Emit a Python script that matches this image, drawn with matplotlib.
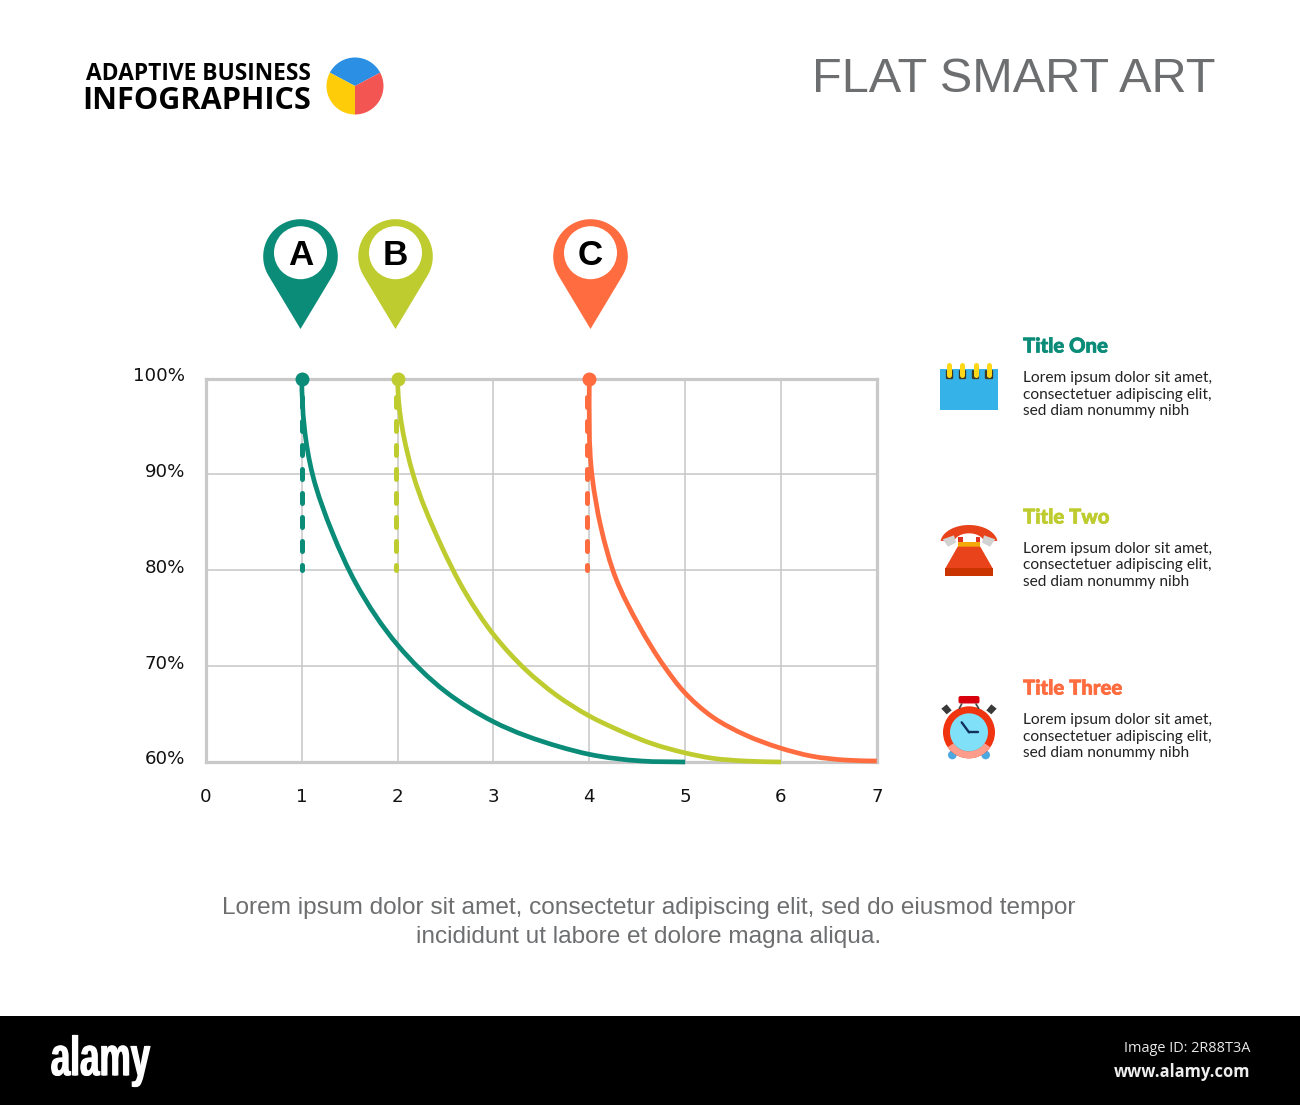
import numpy as np
import matplotlib
matplotlib.use("Agg")
import matplotlib.pyplot as plt
from matplotlib.patches import Rectangle, Circle, Wedge, Polygon, FancyBboxPatch, PathPatch
from matplotlib.path import Path
from matplotlib.patheffects import AbstractPathEffect, withStroke
from matplotlib.transforms import ScaledTranslation, Affine2D

W, H = 1300, 1105
GREEN, LIME, ORANGE = "#0a8c78", "#bfcc30", "#ff6c3f"
GRID = "#c9c9c9"
GREY = "#6d6e70"

# ---------- data ----------
x_ticks = [0, 1, 2, 3, 4, 5, 6, 7]
y_ticks = [60, 70, 80, 90, 100]
y_labels = ["60%", "70%", "80%", "90%", "100%"]

a_x = [1.0, 1.114, 1.322, 1.566, 2.0, 2.505, 3.0, 3.686, 4.0, 4.552, 5.0]
a_y = [100, 89.9, 83.85, 78.6, 72.2, 67.3, 64.2, 61.6, 60.8, 60.1, 60]
b_x = [2.0, 2.164, 2.435, 2.71, 3.0, 3.339, 3.652, 4.0, 4.312, 4.659, 5.0, 5.28, 5.63, 6.0]
b_y = [100, 89.9, 83.0, 77.6, 73.3, 69.6, 67.0, 64.8, 63.3, 61.9, 60.95, 60.4, 60.1, 60]
c_x = [4.0, 4.03, 4.121, 4.277, 4.52, 4.78, 4.99, 5.285, 5.633, 5.98, 6.327, 6.676, 7.0]
c_y = [100, 89.75, 84.5, 79.15, 74.2, 70.0, 67.3, 64.7, 62.8, 61.5, 60.6, 60.2, 60.1]
dash_x = [1.0, 1.98, 3.98]
dash_bottom = [80, 80, 80]
dash_top = [98.1, 98.1, 98.1]
series_colors = [GREEN, LIME, ORANGE]
pin_letters = ["A", "B", "C"]
titles = ["Title One", "Title Two", "Title Three"]
body = "Lorem ipsum dolor sit amet,\nconsectetuer adipiscing elit,\nsed diam nonummy nibh"
footer = "Lorem ipsum dolor sit amet, consectetur adipiscing elit, sed do eiusmod tempor\nincididunt ut labore et dolore magna aliqua."

px = 0.72  # points per pixel at dpi 100
fig = plt.figure(figsize=(W / 100, H / 100), dpi=100, facecolor="white")


class SqueezeX(AbstractPathEffect):
    """Narrow real text horizontally about a display x position, slightly emboldened."""
    def __init__(self, x0, sx, bold=1.5):
        super().__init__()
        self.x0, self.sx, self.bold = x0, sx, bold

    def draw_path(self, renderer, gc, tpath, affine, rgbFace=None):
        t = affine + Affine2D().translate(-self.x0, 0).scale(self.sx, 1).translate(self.x0, 0)
        renderer.draw_path(gc, tpath, t, rgbFace)
        renderer.draw_path(gc, tpath, t + Affine2D().translate(self.bold, 0), rgbFace)


# ---------- overlay in pixel coordinates ----------
bg = fig.add_axes([0, 0, 1, 1], zorder=0)
bg.set_xlim(0, W); bg.set_ylim(H, 0); bg.axis("off")

bg.add_patch(Rectangle((0, 1016), W, 89, fc="black", ec="none"))
bg.text(50, 1075.5, "alamy", color="white", fontsize=56 * px, fontweight="bold",
        family="Liberation Sans", va="baseline", ha="left",
        path_effects=[SqueezeX(50, 0.626)])
bg.text(1250, 1048.5, "Image ID: 2R88T3A", color="#e8e8e8", fontsize=14.5 * px, family="Open Sans", ha="right", va="center")
bg.text(1250, 1072, "www.alamy.com", color="#eeeeee", fontsize=16.5 * px, family="Open Sans", fontweight="bold", ha="right", va="center")

# logo
bg.text(311, 74, "ADAPTIVE BUSINESS", fontsize=22.8 * px, family="Open Sans", fontweight="bold", color="black", ha="right", va="center")
bg.text(311, 101, "INFOGRAPHICS", fontsize=30.7 * px, family="Open Sans", fontweight="bold", color="black", ha="right", va="center")
def wedge(cx, cy, r, a1, a2, c):
    bg.add_patch(Wedge((cx, cy), r, -a2, -a1, fc=c, ec="none"))
wedge(355, 86, 28.5, 28, 152, "#2b8fe3")
wedge(355, 86, 28.5, -90, 28, "#f25552")
wedge(355, 86, 28.5, 152, 270, "#ffcc0a")

bg.text(1215, 79, "FLAT SMART ART", fontsize=48.6 * px, family="Liberation Sans", color=GREY, ha="right", va="center")
bg.text(649, 922.5, footer, fontsize=24.45 * px, family="Liberation Sans", color=GREY, ha="center", va="center", linespacing=1.38)

# pins
def pin(cx, color, letter):
    cy, r, tip = 256.5, 37.3, 329
    d = tip - cy
    th = np.arcsin(r / d)
    t = np.linspace(-th, np.pi + th, 80)
    pts = np.c_[cx + r * np.cos(t), cy - r * np.sin(t)]
    pts = np.vstack([pts, [cx, tip]])
    bg.add_patch(Polygon(pts, closed=True, fc=color, ec="none"))
    bg.add_patch(Circle((cx, 252.7), 26.5, fc="white", ec="none"))
    bg.text(cx, 255.5, letter, fontsize=35 * px, fontweight="bold", family="Liberation Sans", color="black", ha="center", va="center")
for cx, col, l in zip([300.5, 395.5, 590.5], series_colors, pin_letters):
    pin(cx, col, l)

# legend text
for ty, col, t in zip([346, 517, 688], series_colors, titles):
    bg.text(1023, ty, t, fontsize=20.3 * px, family="Lato", fontweight="black", color=col, ha="left", va="center",
            path_effects=[withStroke(linewidth=0.5, foreground=col)])
    bg.text(1023, ty + 48.5, body, fontsize=15.5 * px, family="Lato", color="#222222", ha="left", va="center", linespacing=1.22)

# icons
def zp(zx, zy):
    return 920 + zx / 3, 330 + zy / 3
def poly(pts, c, **kw):
    bg.add_patch(Polygon([zp(*p) for p in pts], closed=True, fc=c, ec="none", **kw))
def zrect(x0, y0, x1, y1, c):
    (a, b), (e, f) = zp(x0, y0), zp(x1, y1)
    bg.add_patch(Rectangle((a, b), e - a, f - b, fc=c, ec="none"))
def zcirc(x, y, r, c):
    bg.add_patch(Circle(zp(x, y), r / 3, fc=c, ec="none"))
def zline(xs, ys, c, w, cap="round"):
    p = [zp(a, b) for a, b in zip(xs, ys)]
    bg.plot([q[0] for q in p], [q[1] for q in p], color=c, lw=w / 3 * px, solid_capstyle=cap)

# calendar
zrect(60, 118, 235, 240, "#35b2e8")
for zx in [88, 127, 167, 207]:
    zline([zx - 8, zx - 8, zx + 8, zx + 8], [122, 143, 143, 122], "#3a3a2a", 7)
    zline([zx, zx], [106, 134], "#ffd618", 15)

# telephone
t = np.linspace(np.radians(172), np.radians(8), 40)
outer = [(147 + 86 * np.cos(a), 640 - 55 * np.sin(a)) for a in t]
inner = [(147 + 46 * np.cos(a), 640 - 30 * np.sin(a)) for a in t[::-1]]
poly(outer + inner, "#e8421a")
poly([(68, 628), (102, 616), (108, 638), (84, 650)], "#d2d2d2")
poly([(226, 628), (192, 616), (186, 638), (210, 650)], "#d2d2d2")
zrect(114, 622, 129, 637, "#e03020")
zrect(167, 622, 181, 637, "#e03020")
zrect(113, 635, 181, 651, "#f5a80a")
poly([(113, 650), (181, 650), (218, 715), (76, 715)], "#e8431a")
zrect(76, 714, 218, 739, "#c93400")

# alarm clock
zline([125, 118], [1122, 1135], "#444444", 5)
zline([168, 176], [1122, 1135], "#444444", 5)
bg.add_patch(FancyBboxPatch((958.5, 696), 21, 7.5, boxstyle="round,pad=0,rounding_size=2", fc="#d8000c", ec="none"))
poly([(64, 1136), (80, 1123), (95, 1141), (80, 1153)], "#3a3a3a")
poly([(230, 1136), (214, 1123), (199, 1141), (214, 1153)], "#3a3a3a")
zcirc(97, 1275, 13, "#4ca8e0")
zcirc(197, 1275, 13, "#4ca8e0")
zcirc(147, 1207, 78, "#f03410")
bg.add_patch(Wedge(zp(147, 1207), 26, 35, 145, width=7, fc="#ff9d8c", ec="none"))
zcirc(147, 1207, 57, "#7fe0f8")
zline([147, 125], [1207, 1177], "#12305a", 7)
zline([147, 175], [1207, 1207], "#12305a", 7)

# ---------- chart ----------
ax = fig.add_axes([206 / W, (H - 762) / H, (876.8 - 206) / W, (762 - 378.5) / H], zorder=1)
ax.patch.set_alpha(0)
ax.set_xlim(0, 7); ax.set_ylim(60, 100)
ax.set_xticks(x_ticks); ax.set_xticklabels([str(v) for v in x_ticks])
ax.set_yticks(y_ticks); ax.set_yticklabels(y_labels)
ax.grid(True, color=GRID, lw=1.6 * px)
ax.set_axisbelow(True)
for s in ax.spines.values():
    s.set_color(GRID); s.set_linewidth(3.2 * px)
ax.tick_params(length=0, labelsize=18.3 * px, labelcolor="#111111", pad=26 * px)
ax.tick_params(axis="y", pad=21 * px)
for lab in ax.get_xticklabels() + ax.get_yticklabels():
    lab.set_family("DejaVu Sans")
shift = ScaledTranslation(0, 4.5 / 100, fig.dpi_scale_trans)
for lab in ax.get_yticklabels():
    lab.set_transform(lab.get_transform() + shift)


def smooth_path(xs, ys, sx=95.8, sy=9.59):
    """Bezier path through the read points; each curve leaves its start vertically."""
    P = np.c_[xs, ys].astype(float)
    q = P * [sx, sy]
    dt = np.hypot(*np.diff(q, axis=0).T)  # chord length
    m = np.zeros_like(P)
    for i in range(1, len(P) - 1):
        d0, d1 = dt[i - 1], dt[i]
        v0 = (P[i] - P[i - 1]) / d0
        v1 = (P[i + 1] - P[i]) / d1
        m[i] = (d1 * v0 + d0 * v1) / (d0 + d1)
    m[0] = [0, (P[1, 1] - P[0, 1]) / dt[0]]
    m[-1] = (P[-1] - P[-2]) / dt[-1]
    verts, codes = [P[0]], [Path.MOVETO]
    for i in range(len(P) - 1):
        verts += [P[i] + m[i] * dt[i] / 3, P[i + 1] - m[i + 1] * dt[i] / 3, P[i + 1]]
        codes += [Path.CURVE4] * 3
    return Path(np.array(verts), codes)


lw = 4.7 * px
for xs, ys, col in zip([a_x, b_x, c_x], [a_y, b_y, c_y], series_colors):
    ax.add_patch(PathPatch(smooth_path(xs, ys), fc="none", ec=col, lw=lw, capstyle="butt", joinstyle="round", clip_on=False, zorder=4))
    ax.plot(xs[0], ys[0], "o", color=col, ms=14 * px, mec="none", clip_on=False, zorder=5)
for dx, b, t_, col in zip(dash_x, dash_bottom, dash_top, series_colors):
    ax.plot([dx, dx], [t_, b], color=col, lw=5 * px, dashes=(2.0, 2.8), dash_capstyle="round", clip_on=False, zorder=3)

fig.savefig("out.png", dpi=100)
